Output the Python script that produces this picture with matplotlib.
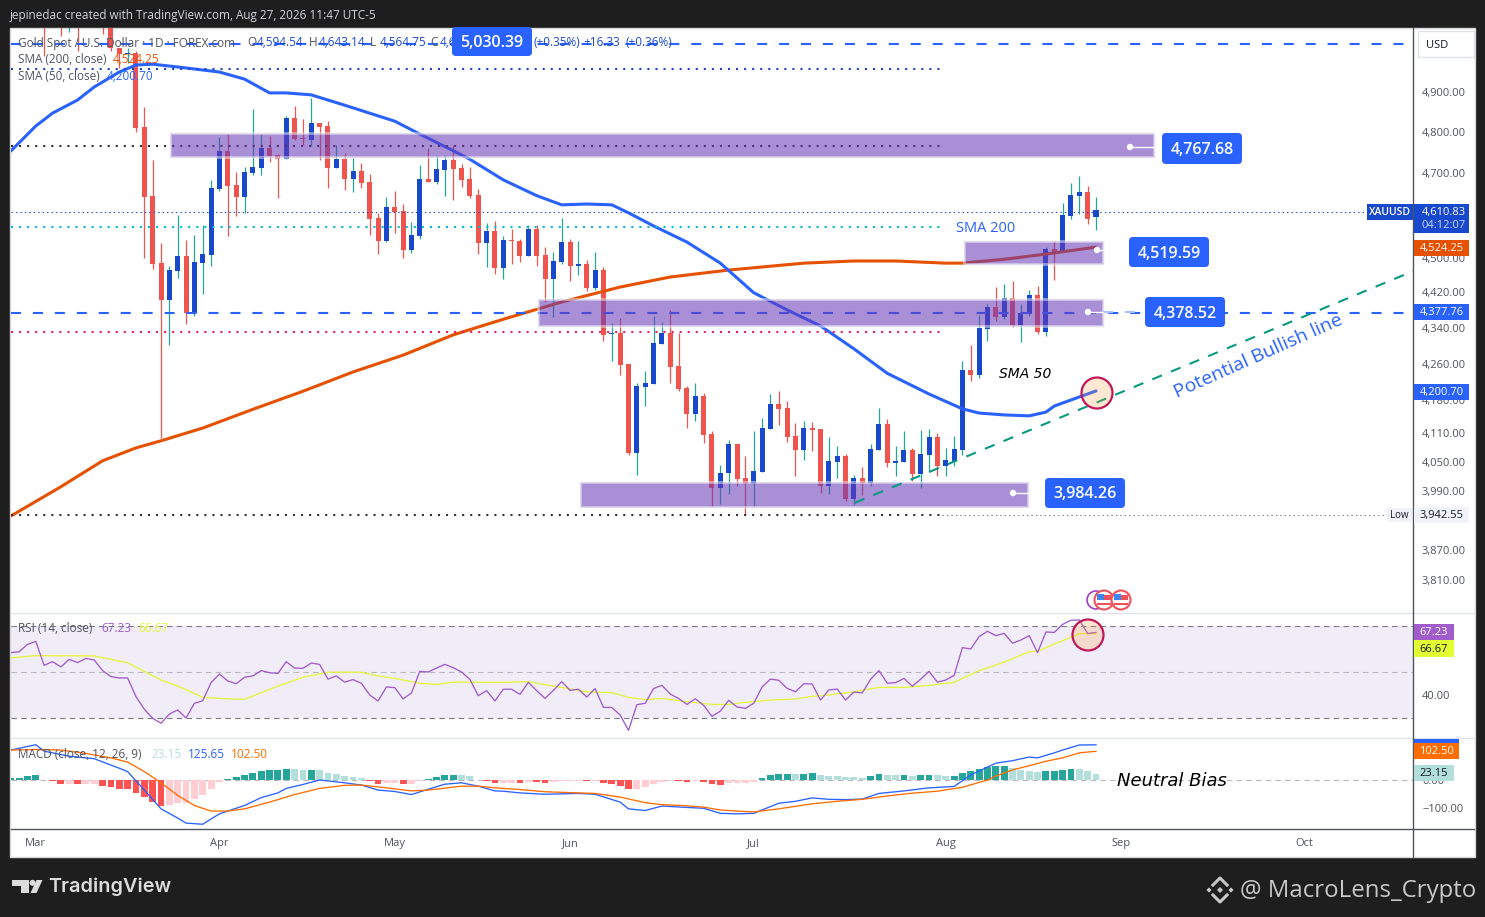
import numpy as np
import matplotlib
matplotlib.use("Agg")
import matplotlib.pyplot as plt
from matplotlib.patches import Rectangle, Circle, FancyBboxPatch, Polygon
from matplotlib.ticker import FixedLocator, FuncFormatter, NullLocator

plt.rcParams['font.family'] = ['Open Sans', 'DejaVu Sans']
plt.rcParams['lines.scale_dashes'] = False
plt.rcParams['axes.unicode_minus'] = True

# ---------- data ----------
month_labels = ['Mar', 'Apr', 'May', 'Jun', 'Jul', 'Aug', 'Sep', 'Oct']
month_bars = [0, 22, 43, 64, 86, 109, 130, 152]
first_bar = 1
opens = [5180, 5150, 5160, 5110, 5180, 5100, 5160, 5150, 5090, 5013, 4998, 5002,
         4813, 4646, 4487, 4403, 4469, 4503, 4373, 4487, 4505, 4662,
         4754, 4672, 4643, 4701, 4713, 4761, 4744, 4734, 4836, 4786,
         4781, 4823, 4816, 4713, 4734, 4686, 4705, 4679, 4593, 4539,
         4619, 4610, 4518, 4551, 4686, 4679, 4708, 4732, 4713, 4686,
         4648, 4534, 4562, 4476, 4541, 4539, 4503, 4567, 4506, 4450,
         4490, 4536, 4480, 4485, 4430, 4471, 4326, 4329, 4259, 4069,
         4209, 4215, 4304, 4329, 4255, 4207, 4151, 4190, 4109, 3996,
         4027, 4088, 4016, 4004, 4029, 4119, 4172, 4164, 4105, 4075,
         4121, 4119, 4000, 4050, 4061, 3973, 4016, 4006, 4075, 4130,
         4048, 4050, 4075, 4025, 4065, 4103, 4042, 4052, 4075, 4246,
         4235, 4338, 4387, 4364, 4407, 4346, 4371, 4414, 4331, 4520,
         4513, 4598, 4646, 4655, 4594.54]
highs = [5240, 5230, 5200, 5210, 5220, 5190, 5200, 5180, 5130, 5015, 5015, 5007,
         4863, 4732, 4534, 4480, 4600, 4541, 4553, 4577, 4684, 4788,
         4796, 4703, 4715, 4858, 4796, 4791, 4746, 4841, 4866, 4833,
         4886, 4823, 4828, 4769, 4749, 4737, 4725, 4698, 4605, 4643,
         4658, 4626, 4584, 4720, 4761, 4744, 4744, 4769, 4722, 4715,
         4662, 4581, 4586, 4551, 4567, 4543, 4577, 4577, 4525, 4513,
         4593, 4543, 4539, 4494, 4513, 4478, 4351, 4362, 4259, 4217,
         4244, 4366, 4353, 4380, 4329, 4211, 4217, 4196, 4115, 4044,
         4096, 4088, 4063, 4115, 4142, 4194, 4200, 4179, 4132, 4136,
         4134, 4119, 4103, 4082, 4067, 4023, 4040, 4088, 4164, 4140,
         4082, 4115, 4079, 4117, 4119, 4111, 4079, 4105, 4266, 4302,
         4369, 4394, 4432, 4439, 4446, 4394, 4426, 4435, 4525, 4539,
         4629, 4677, 4693, 4670, 4643.14]
lows = [4993, 5100, 5044, 5056, 5007, 5080, 5090, 5050, 5006, 4962, 4975, 4801,
        4499, 4473, 4100, 4302, 4453, 4349, 4366, 4416, 4480, 4658,
        4551, 4598, 4605, 4696, 4696, 4727, 4641, 4734, 4781, 4769,
        4766, 4732, 4665, 4713, 4660, 4655, 4665, 4553, 4508, 4536,
        4558, 4499, 4510, 4543, 4679, 4674, 4646, 4636, 4667, 4641,
        4508, 4478, 4462, 4450, 4485, 4490, 4503, 4480, 4398, 4364,
        4485, 4446, 4460, 4423, 4426, 4311, 4266, 4235, 4065, 4023,
        4168, 4215, 4304, 4217, 4200, 4121, 4136, 4090, 3959, 3963,
        3984, 4000, 3943, 3959, 4029, 4119, 4128, 4092, 4021, 4054,
        4073, 3986, 3984, 4016, 3969, 3961, 3981, 4000, 4075, 4040,
        4021, 4050, 4010, 3996, 4029, 4021, 4021, 4042, 4065, 4222,
        4229, 4311, 4355, 4359, 4342, 4309, 4366, 4326, 4322, 4448,
        4513, 4591, 4603, 4579, 4564.75]
closes = [5120, 5190, 5110, 5170, 5100, 5150, 5130, 5090, 5013, 4998, 5002, 4811,
          4643, 4485, 4403, 4471, 4503, 4373, 4490, 4508, 4665, 4754,
          4670, 4643, 4703, 4715, 4761, 4742, 4734, 4836, 4783, 4783,
          4823, 4813, 4713, 4734, 4686, 4705, 4677, 4591, 4539, 4619,
          4607, 4518, 4553, 4686, 4679, 4710, 4732, 4710, 4684, 4646,
          4534, 4562, 4476, 4541, 4539, 4503, 4567, 4503, 4450, 4492,
          4536, 4480, 4485, 4430, 4471, 4324, 4329, 4257, 4069, 4211,
          4217, 4306, 4329, 4253, 4205, 4151, 4190, 4107, 3996, 4027,
          4088, 4014, 4004, 4031, 4121, 4172, 4162, 4103, 4075, 4121,
          4117, 4000, 4052, 4061, 3973, 4016, 4006, 4077, 4130, 4048,
          4052, 4075, 4025, 4067, 4103, 4042, 4054, 4077, 4246, 4235,
          4340, 4387, 4364, 4407, 4346, 4373, 4414, 4331, 4520, 4513,
          4600, 4648, 4655, 4591, 4610.83]

sma50_bar = [-3, 0, 2, 5, 7, 10, 12, 14, 17, 22, 25, 28, 30, 33, 37, 43, 46, 50, 52, 56, 60, 63, 66,
             69, 71, 74, 78, 82, 86, 90, 94, 98, 102, 107, 111, 113, 116, 119, 121, 122, 127]
sma50_val = [4754, 4816, 4848, 4881, 4914, 4952, 4970, 4972, 4965, 4952, 4934, 4899, 4899, 4894, 4868,
             4828, 4796, 4755, 4734, 4684, 4646, 4624, 4626, 4624, 4605, 4574, 4536, 4487, 4419, 4380,
             4344, 4293, 4239, 4194, 4162, 4153, 4149, 4147, 4155, 4168, 4200.70]
sma200_bar = [-3, 3, 8, 12, 15, 20, 26, 32, 38, 44, 50, 56, 63, 70, 76, 83, 92, 98, 103, 109, 111,
              116, 121, 127]
sma200_val = [3938, 3998, 4052, 4079, 4094, 4121, 4161, 4200, 4242, 4279, 4324, 4359, 4398, 4432, 4455,
              4471, 4487, 4492, 4492, 4487, 4487, 4496, 4508, 4524.25]

rsi_first_bar = -3
rsi = [58.4, 58.8, 62.0, 63.3, 52.9, 54.5, 52.2, 55.5, 54.1, 55.9, 55.2, 50.6, 48.0, 47.4, 47.4, 39.3,
       33.8, 29.9, 27.7, 31.7, 33.5, 30.0, 36.4, 37.5, 45.4, 49.1, 46.1, 44.9, 47.7, 48.3, 50.6, 49.7,
       49.4, 54.5, 51.7, 51.6, 53.9, 53.3, 46.9, 48.3, 45.6, 46.7, 45.1, 40.0, 37.4, 43.5, 43.2, 38.3,
       40.9, 50.3, 50.0, 51.7, 53.3, 51.9, 50.0, 46.8, 39.7, 41.9, 37.4, 42.5, 42.5, 40.3, 45.5, 41.9,
       38.5, 42.0, 45.8, 42.0, 42.5, 39.1, 42.8, 34.6, 34.6, 31.3, 24.6, 35.8, 36.4, 42.8, 44.2, 40.4,
       38.5, 35.9, 38.4, 35.5, 30.7, 33.0, 37.7, 34.8, 34.2, 36.4, 43.5, 46.9, 46.4, 42.9, 41.4, 44.9,
       44.8, 37.8, 42.2, 42.6, 37.8, 41.3, 40.9, 46.8, 50.6, 45.1, 45.4, 47.2, 43.8, 46.9, 50.3, 45.6,
       46.5, 48.5, 60.6, 60.0, 65.4, 67.7, 65.8, 66.8, 62.5, 63.9, 65.8, 58.4, 67.4, 67.2, 70.7, 72.5,
       72.6, 66.7, 67.23]
rsi_ma_bar = [-3, 0, 7, 11, 15, 17, 20, 23, 25, 29, 32, 35, 39, 41, 43, 46, 48, 50, 56, 59, 62, 66, 69,
              71, 73, 75, 78, 81, 83, 85, 88, 91, 93, 95, 98, 101, 104, 107, 110, 113, 115, 116, 119,
              120, 124, 125, 127]
rsi_ma = [56.2, 57.1, 57.0, 54.0, 46.5, 43.9, 39.0, 38.3, 38.1, 43.9, 47.7, 49.9, 49.9, 48.3, 47.2, 45.1,
          44.6, 45.6, 45.5, 45.8, 43.9, 41.4, 41.0, 39.0, 38.0, 38.5, 37.1, 35.9, 35.9, 36.8, 37.8, 38.3,
          39.4, 40.0, 41.4, 43.3, 43.3, 44.2, 45.5, 50.6, 53.0, 54.3, 58.8, 59.1, 65.1, 66.7, 66.67]

macd_bar = [-3, 0, 1, 4, 7, 10, 11, 13, 15, 17, 18, 20, 21, 22, 25, 27, 29, 30, 32, 34, 37, 39, 41, 43,
            45, 47, 49, 51, 53, 55, 56, 58, 61, 65, 67, 70, 71, 73, 75, 78, 80, 82, 84, 86, 89, 91, 93,
            95, 97, 99, 101, 104, 107, 110, 112, 115, 117, 119, 120, 122, 123, 125, 127]
macd_line = [107, 126, 103, 85, 76, 42, 30, -36, -103, -136, -154, -158, -139, -121, -91, -63, -46, -30,
             -16, 0, -10, -18, -36, -41, -52, -33, -15, -10, -22, -39, -40, -46, -51, -48, -51, -79, -103,
             -109, -93, -98, -101, -119, -121, -119, -83, -76, -64, -69, -70, -68, -48, -39, -28, -23, 18,
             60, 69, 82, 79, 97, 107, 125, 125.65]
signal_bar = [-3, 0, 3, 6, 9, 11, 13, 15, 17, 19, 21, 23, 25, 28, 31, 34, 37, 39, 42, 45, 47, 51, 53, 55,
              58, 61, 65, 67, 70, 73, 75, 78, 80, 82, 84, 86, 89, 93, 96, 99, 102, 105, 108, 111, 114,
              115, 117, 119, 121, 123, 125, 127]
signal_line = [107, 109, 107, 95, 79, 64, 30, -10, -55, -91, -111, -111, -103, -79, -52, -30, -19, -18,
               -28, -39, -36, -22, -22, -28, -34, -42, -46, -48, -61, -81, -88, -92, -97, -107, -111, -114,
               -103, -85, -76, -69, -57, -47, -40, -26, 0, 14, 36, 51, 67, 79, 97, 102.50]
hist = [6, 6, 14, 18, 1, -5, -15, -15, -15, -15, -15, -20, -26, -32, -32, -48, -62, -80, -93, -90, -83, -83,
        -69, -55, -33, -8, 4, 10, 17, 24, 31, 35, 35, 38, 38, 35, 35, 35, 24, 20, 13, 10, 6, -5, -14, -12,
        -12, -15, -15, -4, 5, 10, 17, 17, 17, 13, 1, -5, -12, -12, -12, -12, -8, -8, -12, -8, -5, -5, -5,
        -5, -2, -12, -15, -23, -33, -33, -26, -15, -8, -5, -5, -8, -5, -8, -15, -19, -12, -12, -12, -8, 7,
        18, 21, 21, 21, 21, 25, 18, 14, 14, 10, 10, 6, 14, 21, 18, 18, 18, 14, 18, 18, 18, 14, 14, 25, 32,
        39, 45, 50, 49, 42, 36, 33, 29, 31, 31, 35, 38, 38, 31, 23.15]
hist_state = ("DDDDL" "RRPRPPRRRRRRRRPPPPPPP"
              "DDDDDDDDLLDLLLLLL"
              "RRPPRPPDDDDLLLRRPPRPRRPPPPRPRRRRPPPPPRRPRRRPPPP"
              "DDDDLDDLLLLLL" "DDLLDLDDLLDDDDDDD" "LLLLDDDDLLL")

level_top = 5024
level_now = 4607
level_mid = 4374
level_low = 3940
ray_levels = [4960, 4766, 4572, 4331]
zones = [(16.08, 133.95, 4739, 4798), (111.2, 127.85, 4485, 4539),
         (60.16, 127.85, 4344, 4405), (65.2, 118.85, 3957, 4008)]
trend_bar = [98.1, 165.3]
trend_val = [3965, 4471]
price_ticks = [4900, 4800, 4700, 4500, 4420, 4340, 4260, 4180, 4110, 4050, 3990, 3870, 3810]

# ---------- layout ----------
W, H = 1485, 917
BAR0, STEP = 35.8, 8.348
L, R = 11, 1413
xlim = ((L - BAR0) / STEP, (R - BAR0) / STEP)
RAY_END = (942 - BAR0) / STEP

def py_price(y):
    return 4900 * np.exp(-(y - 92.5) / 1938)

def add_panel(top, bottom, z=2):
    a = fig.add_axes([L / W, 1 - bottom / H, (R - L) / W, (bottom - top) / H], zorder=z)
    a.set_facecolor('none')
    a.set_xlim(*xlim)
    for s in a.spines.values():
        s.set_visible(False)
    a.yaxis.tick_right()
    a.tick_params(axis='y', length=0, pad=6.5, labelsize=8, labelcolor='#50535e')
    a.tick_params(axis='x', length=0)
    a.xaxis.set_major_locator(NullLocator())
    return a

fig = plt.figure(figsize=(W / 100, H / 100), dpi=100, facecolor='#1e1e1e')

bg = fig.add_axes([0, 0, 1, 1], zorder=0)
bg.set_xlim(0, W); bg.set_ylim(H, 0); bg.axis('off')
bg.add_patch(Rectangle((10, 28), 1465, 829, fc='white', ec='#d6d6d6', lw=1))

# ---------- price ----------
ax = add_panel(28, 613)
ax.set_yscale('log')
ax.set_ylim(py_price(613), py_price(28))
ax.yaxis.set_major_locator(FixedLocator(price_ticks))
ax.yaxis.set_minor_locator(NullLocator())
ax.yaxis.set_major_formatter(FuncFormatter(lambda v, _: f"{v:,.2f}"))

bars = np.arange(first_bar, first_bar + len(opens))
o, h, l, c = map(np.array, (opens, highs, lows, closes))
up = c >= o
BLUE, TEAL, RED = '#1848cc', '#26a69a', '#f0544f'
ax.vlines(bars[up], l[up], h[up], color=TEAL, lw=0.9, zorder=2)
ax.vlines(bars[~up], l[~up], h[~up], color=RED, lw=0.9, zorder=2)
ax.bar(bars[up], (c - o)[up], bottom=o[up], width=0.6, color=BLUE, lw=0, zorder=2.1)
ax.bar(bars[~up], (o - c)[~up], bottom=c[~up], width=0.6, color=RED, lw=0, zorder=2.1)

ax.plot(sma200_bar, sma200_val, color='#e65100', lw=2.2, zorder=3, solid_capstyle='round')
ax.plot(sma50_bar, sma50_val, color='#2962ff', lw=2.2, zorder=3, solid_capstyle='round')

DOT = (0, (1.5, 4.3))
ax.plot(xlim, [level_top] * 2, color='#2962ff', lw=1.5, ls=(0, (7.2, 8.6)), zorder=3)
ax.plot(xlim, [level_mid] * 2, color='#2962ff', lw=1.5, ls=(0, (7.2, 8.6)), zorder=3)
ax.plot(xlim, [level_now] * 2, color='#1848cc', lw=0.8, ls=(0, (1, 2.2)), zorder=3)
for val, col in zip(ray_levels, ['#1848cc', '#333333', '#00bcd4', '#e91e63']):
    ax.plot([xlim[0], RAY_END], [val, val], color=col, lw=1.5, ls=DOT, zorder=3)
ax.plot([xlim[0], RAY_END], [level_low] * 2, color='#333333', lw=1.5, ls=DOT, zorder=3)
ax.plot([RAY_END, (1387 - BAR0) / STEP], [level_low] * 2, color='#777777', lw=0.7, ls=(0, (1, 2.2)), zorder=3)

for x0, x1, lo, hi in zones:
    ax.add_patch(Rectangle((x0, lo), x1 - x0, hi - lo, fc=(103 / 255, 58 / 255, 183 / 255, 0.57),
                           ec=(0.95, 0.95, 0.95, 0.5), lw=2, zorder=4))
ax.plot(trend_bar, trend_val, color='#089981', lw=1.5, ls=(0, (7.5, 7.0)), zorder=5)

# ---------- RSI ----------
ar = add_panel(614, 738)
ar.set_ylim(50 - (738 - 672) / 2.3, 50 + (672 - 614) / 2.3)
ar.axhspan(30, 70, color='#7e57c2', alpha=0.1, lw=0, zorder=1)
for v, col in [(70, '#787b86'), (30, '#787b86'), (50, '#b8b8c0')]:
    ar.axhline(v, color=col, lw=0.8, ls=(0, (4, 3)), zorder=1.5)
ar.plot(np.arange(rsi_first_bar, rsi_first_bar + len(rsi)), rsi, color='#a05ccb', lw=0.95, zorder=3)
ar.plot(rsi_ma_bar, rsi_ma, color='#e3f53a', lw=0.95, zorder=2.5)
ar.yaxis.set_major_locator(FixedLocator([40]))
ar.yaxis.set_major_formatter(FuncFormatter(lambda v, _: f"{v:.2f}"))

# ---------- MACD ----------
am = add_panel(739, 829)
SC = 0.28
am.set_ylim(-(829 - 780) / SC, (780 - 739) / SC)
am.axhline(0, color='#b8b8c0', lw=0.8, ls=(0, (4, 3)), zorder=1)
hb = np.arange(-3, -3 + len(hist))
palette = {'D': '#26a69a', 'L': '#b2dfdb', 'R': '#ff5252', 'P': '#ffcdd2'}
am.bar(hb, hist, width=0.82, color=[palette[s] for s in hist_state], lw=0, zorder=2)
am.plot(macd_bar, macd_line, color='#2962ff', lw=0.95, zorder=3)
am.plot(signal_bar, signal_line, color='#ff6d00', lw=0.95, zorder=3)
am.yaxis.set_major_locator(FixedLocator([-100, 0]))
am.yaxis.set_major_formatter(FuncFormatter(lambda v, _: f"{v:,.2f}".replace('-', '\u2212')))
am.set_xticks(month_bars, month_labels)
am.tick_params(axis='x', labelsize=8, labelcolor='#50535e', pad=6.5)

# ---------- overlay in pixels ----------
top = fig.add_axes([0, 0, 1, 1], zorder=6)
top.set_xlim(0, W); top.set_ylim(H, 0); top.axis('off')
top.patch.set_alpha(0)

def txt(x, y, s, color='#50535e', size=8.5, ha='left', **kw):
    return top.text(x, y + 1, s, color=color, fontsize=size, ha=ha, va='center', **kw)

def tag(x0, y0, x1, y1, col, s='', tc='white', size=8, weight='normal'):
    top.add_patch(Rectangle((x0, y0), x1 - x0, y1 - y0, fc=col, ec='none', zorder=5))
    if s:
        top.text((x0 + x1) / 2, (y0 + y1) / 2 + 0.8, s, color=tc, fontsize=size, ha='center', va='center',
                 weight=weight, zorder=6)

def blue_box(x0, y0, x1, y1, s):
    top.add_patch(FancyBboxPatch((x0 + 3, y0 + 3), x1 - x0 - 6, y1 - y0 - 6,
                                 boxstyle='round,pad=3,rounding_size=4', fc='#2962ff', ec='none', zorder=5))
    top.text((x0 + x1) / 2, (y0 + y1) / 2 + 1.5, s, color='white', fontsize=11.5, ha='center', va='center',
             weight='semibold', zorder=6)

# panel frame lines
for y in (613, 738):
    top.plot([11, 1474], [y, y], color='#e0e3eb', lw=1, zorder=1)
top.plot([1413, 1413], [28, 857], color='#50535e', lw=1, zorder=4)
top.plot([11, 1474], [829, 829], color='#50535e', lw=1, zorder=4)

# header and legends
txt(10, 14, 'jepinedac created with TradingView.com, Aug 27, 2026 11:47 UTC-5', color='#d1d4dc', size=8.45)
txt(18, 42, 'Gold Spot / U.S. Dollar \u00b7 1D \u00b7 FOREX.com')
for x, letter, val in [(247, 'O', '4,594.54'), (309, 'H', '4,643.14'), (370, 'L', '4,564.75'), (430, 'C', '4,610.83')]:
    txt(x, 42, letter)
    txt(x + 9.5, 42, val, color='#1848cc')
txt(533, 42, '(+0.35%)', color='#1848cc')
txt(583, 42, '+16.33', color='#1848cc')
txt(625, 42, '(+0.36%)', color='#1848cc')
txt(18, 58.5, 'SMA (200, close)')
txt(113, 58.5, '4,524.25', color='#e65100')
txt(18, 75.5, 'SMA (50, close)')
txt(107, 75.5, '4,200.70', color='#2962ff')
txt(18, 628, 'RSI (14, close)')
txt(101, 628, '67.23', color='#a05ccb')
txt(138, 628, '66.67', color='#e3f53a')
txt(18, 753, 'MACD (close, 12, 26, 9)')
txt(151, 753, '23.15', color='#b2dfdb')
txt(188, 753, '125.65', color='#2962ff')
txt(231, 753, '102.50', color='#ff6d00')

# annotation boxes
blue_box(452, 27, 532, 56, '5,030.39')
blue_box(1162, 133, 1242, 164, '4,767.68')
blue_box(1129, 237, 1209, 267, '4,519.59')
blue_box(1145, 297, 1225, 327, '4,378.52')
blue_box(1045, 478, 1125, 508, '3,984.26')

# zone handles
for x, y, x1 in [(1130, 147, 1154), (1097, 250, 1103), (1088, 312, 1103), (1013, 493, 1028)]:
    top.plot([x, x1], [y, y], color='white', lw=1, zorder=4)
    top.add_patch(Circle((x, y), 3.2, fc='white', ec='none', zorder=4))
top.plot([1103, 1145], [312, 312], color='#a9c1ff', lw=1.5, ls=(0, (7.2, 8.6)), zorder=2)

# chart texts
top.text(986, 229, 'SMA 200', color='#2962ff', fontsize=10.5, ha='center', va='center')
top.text(1025, 374, 'SMA 50', color='black', fontsize=10, ha='center', va='center', style='italic',
         family='DejaVu Sans')
top.text(1172, 781, 'Neutral Bias', color='black', fontsize=13, ha='center', va='center', style='italic',
         family='DejaVu Sans')
top.text(1258, 356, 'Potential Bullish line', color='#2962ff', fontsize=13.9, ha='center', va='center',
         rotation=24, rotation_mode='anchor')

# highlight circles
top.add_patch(Circle((1097, 393), 15.5, fc=(1.0, 0.6, 0.2, 0.22), ec='#c2185b', lw=1.6, zorder=3))
top.add_patch(Circle((1088, 635), 15.5, fc=(1.0, 0.6, 0.2, 0.22), ec='#c2185b', lw=1.6, zorder=3))

# event icons
top.add_patch(Circle((1096, 600), 9, fc='white', ec='#a03fc8', lw=1.2, zorder=3))
for cx in (1104, 1121):
    top.add_patch(Circle((cx, 600), 9.5, fc='white', ec='#f0505a', lw=1.5, zorder=4))
    top.add_patch(Rectangle((cx - 7, 595), 14, 5, fc='#f0505a', ec='none', zorder=4.1))
    top.add_patch(Rectangle((cx - 7, 603), 14, 2, fc='#f0505a', ec='none', zorder=4.1))
    top.add_patch(Rectangle((cx - 7, 594), 7, 6, fc='#3f86f5', ec='none', zorder=4.2))

# right scale tags
top.add_patch(Rectangle((1418, 31), 56, 26, fc='white', ec='#e0e3eb', lw=1, zorder=3))
top.text(1426, 45, 'USD', color='#131722', fontsize=8, va='center', zorder=4)
tag(1367, 204, 1413, 220, '#1848cc', 'XAUUSD', size=7.5, weight='semibold')
tag(1414, 204, 1469, 233, '#1848cc')
top.text(1443.5, 212.8, '4,610.83', color='white', fontsize=8, ha='center', va='center', zorder=6)
top.text(1443.5, 226, '04:12:07', color='#c9d6f6', fontsize=8, ha='center', va='center', zorder=6)
tag(1414, 240, 1469, 256, '#e65100', '4,524.25')
tag(1414, 304, 1469, 320, '#2962ff', '4,377.76')
tag(1414, 384, 1469, 400, '#2962ff', '4,200.70')
tag(1387, 508, 1412, 522, '#f0f3fa', 'Low', tc='#131722', size=7)
tag(1414, 507, 1469, 523, '#f0f3fa', '3,942.55', tc='#131722')
tag(1414, 624, 1454, 640, '#a05ccb', '67.23')
tag(1414, 640, 1454, 657, '#e3ff33', '66.67', tc='#131722')
tag(1414, 739, 1459, 743, '#2962ff')
tag(1414, 743, 1459, 759, '#ff6d00', '102.50')
tag(1414, 765, 1454, 781, '#b2dfdb', '23.15', tc='#131722')

# footer
LOGO = '#dcdcdc'
top.add_patch(Polygon([(12, 880), (29, 880), (29, 893), (21, 893), (21, 886), (12, 886)], fc=LOGO, ec='none'))
top.add_patch(Circle((32.5, 882.8), 3, fc=LOGO, ec='none'))
top.add_patch(Polygon([(36.5, 880), (42.5, 880), (36.5, 893), (30.5, 893)], fc=LOGO, ec='none'))
top.text(48, 887, 'TradingView', color=LOGO, fontsize=14.3, weight='semibold', ha='left', va='center', family='Inter')
# diamond mark
DC = '#c8c8c8'
for cx, cy, r in [(1220, 890, 3), (1209, 890, 2.6), (1231, 890, 2.6)]:
    top.add_patch(Polygon([(cx - r, cy), (cx, cy - r), (cx + r, cy), (cx, cy + r)], fc=DC, ec='none'))
top.plot([1213, 1220, 1227], [885, 878, 885], color=DC, lw=2.2)
top.plot([1213, 1220, 1227], [895, 902, 895], color=DC, lw=2.2)
top.text(1476, 891, '@ MacroLens_Crypto', color='#c8c8c8', fontsize=17.3, ha='right', va='center')

fig.savefig('out.png', dpi=100, facecolor=fig.get_facecolor())
